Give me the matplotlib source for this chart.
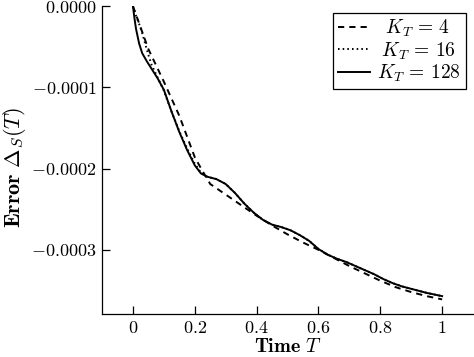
import numpy as np
import matplotlib
matplotlib.use('Agg')
import matplotlib.pyplot as plt
from matplotlib.ticker import FuncFormatter

# 그래프용 폰트 설정 (Computer Modern 느낌)
plt.rcParams['font.family'] = 'cmr10'
plt.rcParams['mathtext.fontset'] = 'cm'
plt.rcParams['axes.formatter.use_mathtext'] = True

# K_T = 4 (dashed)
t_k4 = [0, 0.05, 0.1, 0.15, 0.2, 0.222, 0.25, 0.3, 0.35, 0.4, 0.45, 0.5,
        0.55, 0.6, 0.65, 0.7, 0.75, 0.8, 0.85, 0.9, 0.95, 1.0]
err_k4 = [0, -0.53, -0.93, -1.35, -1.86, -2.01, -2.19, -2.32, -2.45, -2.58, -2.70, -2.81,
          -2.91, -3.00, -3.10, -3.20, -3.29, -3.38, -3.46, -3.52, -3.57, -3.61]

# K_T = 16 (dotted)
t_k16 = [0, 0.01, 0.02, 0.03, 0.04, 0.05, 0.06, 0.08, 0.1, 0.125, 0.15, 0.175, 0.2, 0.22,
         0.24, 0.27, 0.3, 0.33, 0.36, 0.39, 0.42, 0.45, 0.48, 0.51, 0.54, 0.57, 0.6,
         0.63, 0.66, 0.69, 0.72, 0.75, 0.78, 0.81, 0.84, 0.87, 0.9, 0.95, 1.0]
err_k16 = [0, -0.12, -0.22, -0.33, -0.47, -0.60, -0.72, -0.88, -1.04, -1.30, -1.54, -1.75, -1.94, -2.05,
           -2.10, -2.13, -2.19, -2.30, -2.43, -2.54, -2.63, -2.69, -2.72, -2.76, -2.82, -2.89, -2.99,
           -3.06, -3.11, -3.15, -3.20, -3.25, -3.30, -3.36, -3.41, -3.45, -3.48, -3.53, -3.57]

# K_T = 128 (solid)
t_k128 = [0, 0.005, 0.01, 0.02, 0.03, 0.045, 0.06, 0.08, 0.1, 0.125, 0.15, 0.175, 0.2, 0.22,
          0.24, 0.27, 0.3, 0.33, 0.36, 0.39, 0.42, 0.45, 0.48, 0.51, 0.54, 0.57, 0.6,
          0.63, 0.66, 0.69, 0.72, 0.75, 0.78, 0.81, 0.84, 0.87, 0.9, 0.95, 1.0]
err_k128 = [0, -0.15, -0.28, -0.46, -0.58, -0.68, -0.77, -0.89, -1.03, -1.30, -1.55, -1.77, -1.96, -2.06,
            -2.10, -2.13, -2.19, -2.30, -2.43, -2.54, -2.63, -2.69, -2.72, -2.76, -2.82, -2.89, -2.99,
            -3.06, -3.11, -3.15, -3.20, -3.25, -3.30, -3.36, -3.41, -3.45, -3.48, -3.53, -3.57]

# 범례 텍스트 (가운데 정렬처럼 보이게 앞쪽 여백 추가)
labels = [r'$\enspace K_T \,=\, 4$', r'$\; K_T \,=\, 16$', r'$K_T \,=\, 128$']
x_ticks = [0, 0.2, 0.4, 0.6, 0.8, 1]
y_ticks = [0, -1e-4, -2e-4, -3e-4]

fig = plt.figure(figsize=(4.74, 3.57), dpi=100)
ax = fig.add_axes([0.2152, 0.1204, 0.7828, 0.8626])

scale = 1e-4
ax.plot(t_k4, np.array(err_k4) * scale, c='black', lw=1.4, ls=(0, (3.2, 2.6)), label=labels[0])
ax.plot(t_k16, np.array(err_k16) * scale, c='black', lw=1.4, ls=(0, (0.8, 1.6)), label=labels[1])
ax.plot(t_k128, np.array(err_k128) * scale, c='black', lw=1.4, ls='-', label=labels[2])

ax.set_xlim(-0.1, 1.1)
ax.set_ylim(-0.000379, 0)
ax.set_xticks(x_ticks)
ax.set_yticks(y_ticks)
ax.xaxis.set_major_formatter(FuncFormatter(lambda v, p: '$%g$' % v))
ax.yaxis.set_major_formatter(FuncFormatter(lambda v, p: '$%.4f$' % (v if abs(v) > 1e-12 else 0)))

ax.spines['top'].set_visible(False)
ax.spines['right'].set_visible(False)
for s in ['left', 'bottom']:
    ax.spines[s].set_linewidth(0.9)
ax.tick_params(direction='in', length=6, width=0.9, labelsize=13, pad=4)

ax.set_xlabel(r'$\mathbf{Time}\ T$', fontsize=14.5, labelpad=2)
ax.set_ylabel(r'$\mathbf{Error}\ \Delta_S(T)$', fontsize=16, labelpad=2)
ax.yaxis.label.set_y(0.475)

leg = ax.legend(loc='upper right', fontsize=14, frameon=True, fancybox=False,
                edgecolor='black', framealpha=1, handlelength=1.65,
                borderpad=0.25, labelspacing=0.05, handletextpad=0.4,
                borderaxespad=0, bbox_to_anchor=(0.981, 0.977))
leg.get_frame().set_linewidth(0.9)

fig.savefig('out.png', dpi=100)
